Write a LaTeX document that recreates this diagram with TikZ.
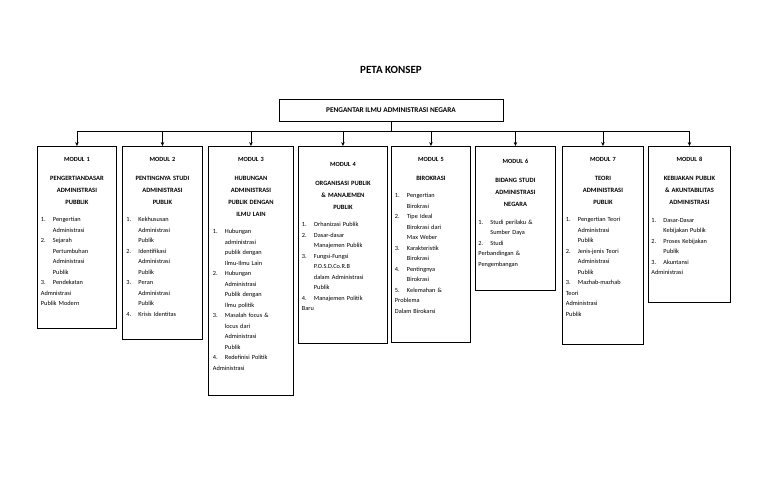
\documentclass[tikz,border=0pt]{standalone}
\usepackage{fontspec}
\setmainfont{Carlito}
\usetikzlibrary{arrows.meta}
\newcommand{\itm}[2]{\par\hangindent=12pt\hangafter=1\noindent\makebox[12pt][l]{#1.}#2}
\newcommand{\hd}[2]{\centering\textbf{#1}\par\vspace{7pt}{\fontsize{6.5}{12}\selectfont\textbf{#2}\par}\vspace{7pt}\raggedright}
\tikzset{
 modbox/.style={draw,line width=0.9pt,anchor=north west,inner sep=0pt},
 modtext/.style={anchor=north,inner sep=0pt,font=\fontsize{6.3}{10.5}\selectfont,align=left},
 conn/.style={line width=0.8pt},
 arr/.style={line width=0.8pt,-{Stealth[length=4pt,width=3.5pt]}}
}
\begin{document}
\begin{tikzpicture}[x=1pt,y=-1pt]
\useasboundingbox (0,0) rectangle (768,501);
\node[font=\fontsize{11}{13}\selectfont\bfseries] (title) at (391,70) {PETA KONSEP};
\node[draw,line width=0.9pt,minimum width=224pt,minimum height=22pt,font=\fontsize{7.3}{9}\selectfont\bfseries] (root) at (391,110) {PENGANTAR ILMU ADMINISTRASI NEGARA};
\coordinate (bus) at (391,131);
\foreach \n/\x/\w/\h in {1/37/79/182,2/122/80/193,3/208/85/249,4/298/89/197,5/391/79/196,6/475/80/144,7/562/81/198,8/648/82/156}{
 \node[modbox,minimum width=\w pt,minimum height=\h pt] (m\n) at (\x,146) {};
 \coordinate (t\n) at (m\n.north |- bus);
}
\draw[conn] (root.south) -- (bus);
\draw[conn] (t1) -- (t8);
\foreach \n in {1,...,8}{\draw[arr] (t\n) -- (m\n.north);}
\node[modtext,text width=72pt] at ([yshift=-11pt]m1.north) {\hd{MODUL 1}{PENGERTIANDASAR\\ADMINISTRASI\\PUBBLIK}
\itm{1}{Pengertian\newline Administrasi}
\itm{2}{Sejarah\newline Pertumbuhan\newline Administrasi\newline Publik}
\itm{3}{Pendekatan\newline Admnistrasi\newline Publik Modern}};
\node[modtext,text width=72pt] at ([yshift=-11pt]m2.north) {\hd{MODUL 2}{PENTINGNYA STUDI\\ADMINISTRASI\\PUBLIK}
\itm{1}{Kekhususan\newline Administrasi\newline Publik}
\itm{2}{Identifikasi\newline Administrasi\newline Publik}
\itm{3}{Peran\newline Administrasi\newline Publik}
\itm{4}{Krisis Identitas}};
\node[modtext,text width=76pt] at ([yshift=-11pt]m3.north) {\hd{MODUL 3}{HUBUNGAN\\ADMINISTRASI\\PUBLIK DENGAN\\ILMU LAIN}
\itm{1}{Hubungan\newline administrasi\newline publik dengan\newline Ilmu-Ilmu Lain}
\itm{2}{Hubungan\newline Administrasi\newline Publik dengan\newline Ilmu politik}
\itm{3}{Masalah focus \&\newline locus dari\newline Administrasi\newline Publik}
\itm{4}{Redefinisi Politik\newline Administrasi}};
\node[modtext,text width=82pt] at ([yshift=-16pt]m4.north) {\hd{MODUL 4}{ORGANISASI PUBLIK\\\& MANAJEMEN\\PUBLIK}
\itm{1}{Orhanizasi Publik}
\itm{2}{Dasar-dasar\newline Manajemen Publik}
\itm{3}{Fungsi-Fungsi\newline P.O.S.D.Co.R.B\newline dalam Administrasi\newline Publik}
\itm{4}{Manajemen Politik\newline Baru}};
\node[modtext,text width=72pt] at ([yshift=-11pt]m5.north) {\hd{MODUL 5}{BIROKRASI}
\itm{1}{Pengertian\newline Birokrasi}
\itm{2}{Tipe Ideal\newline Birokrasi dari\newline Max Weber}
\itm{3}{Karakteristik\newline Birokrasi}
\itm{4}{Pentingnya\newline Birokrasi}
\itm{5}{Kelemahan \&\newline Problema\newline Dalam Birokarsi}};
\node[modtext,text width=74pt] at ([yshift=-13pt]m6.north) {\hd{MODUL 6}{BIDANG STUDI\\ADMINISTRASI\\NEGARA}
\itm{1}{Studi perilaku \&\newline Sumber Daya}
\itm{2}{Studi\newline Perbandingan \&\newline Pengembangan}};
\node[modtext,text width=74pt] at ([yshift=-11pt]m7.north) {\hd{MODUL 7}{TEORI\\ADMINISTRASI\\PUBLIK}
\itm{1}{Pengertian Teori\newline Administrasi\newline Publik}
\itm{2}{Jenis-jenis Teori\newline Administrasi\newline Publik}
\itm{3}{Mazhab-mazhab\newline Teori\newline Administrasi\newline Publik}};
\node[modtext,text width=76pt] at ([yshift=-11pt]m8.north) {\hd{MODUL 8}{KEBIJAKAN PUBLIK\\\& AKUNTABILITAS\\ADMINISTRASI}
\itm{1}{Dasar-Dasar\newline Kebijakan Publik}
\itm{2}{Proses Kebijakan\newline Publik}
\itm{3}{Akuntansi\newline Administrasi}};
\end{tikzpicture}
\end{document}
